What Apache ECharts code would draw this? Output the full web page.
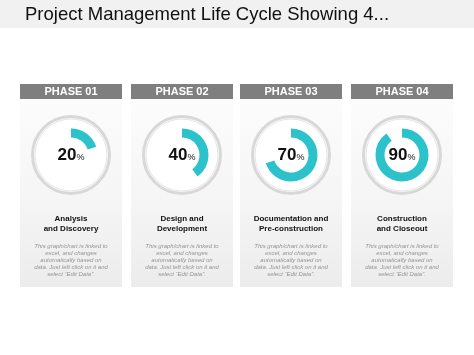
<!DOCTYPE html>
<html><head><meta charset="utf-8">
<script src="https://cdn.jsdelivr.net/npm/echarts@6/dist/echarts.min.js"></script>
<style>html,body{margin:0;padding:0;background:#fff}#c{width:474px;height:355px}</style>
</head><body><div id="c"></div>
<script>
const titleText = "Project Management Life Cycle Showing 4...";
const phases = ["PHASE 01", "PHASE 02", "PHASE 03", "PHASE 04"];
const stageTitles = ["Analysis\nand Discovery", "Design and\nDevelopment", "Documentation and\nPre-construction", "Construction\nand Closeout"];
const percents = [20, 40, 70, 90];
const descText = "This graph/chart is linked to\nexcel, and changes\nautomatically based on\ndata. Just left click on it and\nselect \u201cEdit Data\u201d.";

const colX = [20, 131, 240, 351];
const colW = 102;
const cy = 155;
const teal = "#2cc2cc";

const chart = echarts.init(document.getElementById('c'));
const graphic = [];
graphic.push({type:'rect', shape:{x:0,y:0,width:474,height:28}, style:{fill:'#f1f1f1'}, z:0});
colX.forEach((x,i)=>{
  graphic.push({type:'rect', shape:{x:x,y:99,width:colW,height:188},
    style:{fill:new echarts.graphic.LinearGradient(0,0,0,1,[{offset:0,color:'#fcfcfc'},{offset:0.55,color:'#f5f5f5'},{offset:1,color:'#ececec'}])}, z:0});
  graphic.push({type:'rect', shape:{x:x,y:84,width:colW,height:15}, style:{fill:'#7f7f7f'}, z:1});
  graphic.push({type:'text', x:x+colW/2, y:91.5, style:{text:phases[i], fill:'#fff', font:'bold 11px "Liberation Sans", Arial, sans-serif', align:'center', verticalAlign:'middle'}, z:2});
  const cx = x + colW/2;
  graphic.push({type:'circle', shape:{cx:cx, cy:cy, r:38.5}, style:{fill:'#fcfcfc', stroke:'#d8d8d8', lineWidth:3}, z:1});
  graphic.push({type:'circle', shape:{cx:cx, cy:cy, r:36}, style:{fill:'#ffffff', stroke:'#e6e6e6', lineWidth:1}, z:1});
  graphic.push({type:'text', x:cx, y:214, style:{text:stageTitles[i], fill:'#111', font:'bold 8px "Liberation Sans", Arial, sans-serif', align:'center', verticalAlign:'top', lineHeight:10}, z:2});
  graphic.push({type:'text', x:cx, y:242.5, style:{text:descText, fill:'#949494', font:'italic 6px "Liberation Sans", Arial, sans-serif', align:'center', verticalAlign:'top', lineHeight:7}, z:2});
});

const series = percents.map((p,i)=>({
  type:'pie', silent:true, z:3,
  center:[colX[i]+colW/2, cy], radius:[17.5,26.5], startAngle:90, clockwise:true,
  avoidLabelOverlap:false,
  label:{show:false},
  labelLine:{show:false},
  data:[
    {value:p, itemStyle:{color:teal},
     label:{show:true, position:'center', formatter:'{a|'+p+'}{b|%}',
       rich:{a:{fontSize:17, fontWeight:'bold', color:'#111', fontFamily:'"Liberation Sans", Arial'}, b:{fontSize:9, color:'#111', fontFamily:'"Liberation Sans", Arial', padding:[5,0,0,0]}}}},
    {value:100-p, itemStyle:{color:'rgba(0,0,0,0)'}, label:{show:false}}
  ]
}));

chart.setOption({
  animation:false,
  title:{text:titleText, left:25, top:5, padding:0, textStyle:{fontSize:18.5, fontWeight:'normal', color:'#111', fontFamily:'"Liberation Sans", Arial, sans-serif'}},
  graphic: graphic,
  series: series
});
</script></body></html>
